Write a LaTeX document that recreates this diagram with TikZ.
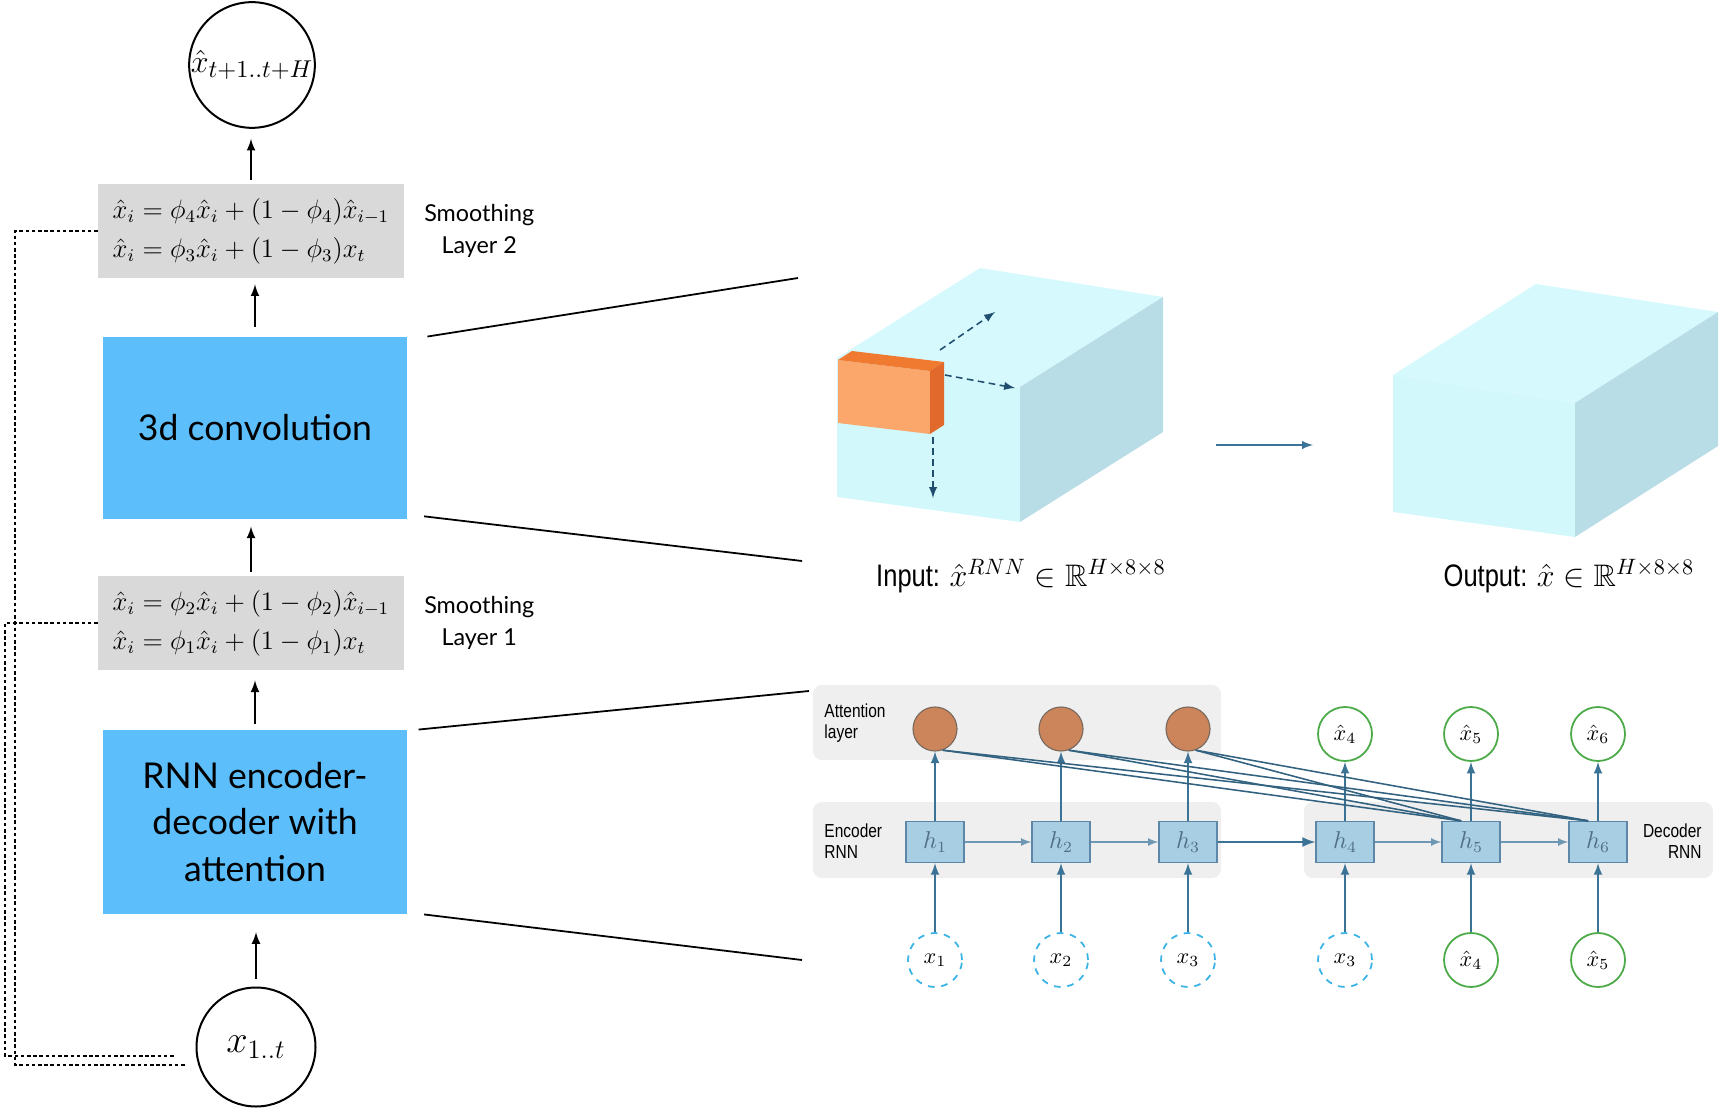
\documentclass[tikz,border=0pt]{standalone}
\usepackage{amsmath}
\usepackage{amssymb}
\usepackage{fontspec}
\setmainfont{Lato}
\newfontfamily\narrowsf[FakeStretch=0.82]{Liberation Sans}
\usepackage{xcolor}
\usepackage{tikz}
\usetikzlibrary{shapes, arrows, positioning, calc}

\definecolor{boxblue}{RGB}{92,190,250}
\definecolor{smgray}{RGB}{217,217,217}
\definecolor{panelgray}{RGB}{239,239,239}
\definecolor{hfill}{RGB}{168,206,228}
\definecolor{hedge}{RGB}{92,135,166}
\definecolor{htext}{RGB}{80,110,135}
\definecolor{arrblue}{RGB}{59,115,151}
\definecolor{arrlight}{RGB}{110,151,179}
\definecolor{attfill}{RGB}{204,132,90}
\definecolor{attedge}{RGB}{120,105,95}
\definecolor{outgreen}{RGB}{76,170,72}
\definecolor{incyan}{RGB}{59,180,229}
\definecolor{cubefront}{RGB}{210,248,252}
\definecolor{cubetop}{RGB}{214,249,253}
\definecolor{cubeside}{RGB}{185,221,230}
\definecolor{kfront}{RGB}{251,166,106}
\definecolor{ktop}{RGB}{240,122,48}
\definecolor{kside}{RGB}{224,105,43}
\definecolor{dashteal}{RGB}{31,78,110}

\newcommand{\pxu}{0.45pt}

\tikzset{
  bigbox/.style={fill=boxblue, minimum width=304*\pxu, minimum height=184*\pxu, align=center, font=\fontsize{16}{21}\selectfont},
  smbox/.style={fill=smgray, minimum width=306*\pxu, minimum height=94*\pxu, align=left, font=\fontsize{12}{17.5}\selectfont},
  ioball/.style={circle, draw, line width=0.9pt, minimum size=119*\pxu, inner sep=0pt},
  uparr/.style={-latex, line width=0.8pt},
  zoomline/.style={line width=0.8pt},
  skipline/.style={dash pattern=on 1.6pt off 1.2pt, line width=0.7pt},
  hbox/.style={fill=hfill, draw=hedge, line width=0.6pt, minimum width=58*\pxu, minimum height=41*\pxu, text=htext, font=\fontsize{10.5}{12}\selectfont},
  attnode/.style={circle, fill=attfill, draw=attedge, line width=0.5pt, minimum size=44*\pxu, inner sep=0pt},
  outnode/.style={circle, draw=outgreen, line width=0.8pt, minimum size=54*\pxu, inner sep=0pt, fill=white},
  innode/.style={circle, draw=incyan, dashed, line width=0.8pt, minimum size=54*\pxu, inner sep=0pt},
  panel/.style={fill=panelgray, rounded corners=4pt},
  rnnarr/.style={-latex, arrblue, line width=0.8pt},
  recarr/.style={-latex, arrlight, line width=0.6pt},
  attline/.style={arrblue!85!black, line width=0.7pt},
  smalllab/.style={font=\narrowsf\fontsize{8.5}{9.5}\selectfont, align=left, inner sep=0pt},
  cubelab/.style={font=\narrowsf\fontsize{14}{16}\selectfont},
  kernarr/.style={-latex, dashteal, dash pattern=on 3pt off 2pt, line width=0.7pt},
}

\begin{document}
\begin{tikzpicture}[x=\pxu, y=-\pxu]
  \useasboundingbox (0,0) rectangle (1725,1108);

  % Left column
  \node[ioball] (outc) at (252,65) {\fontsize{15}{18}\selectfont $\hat{x}_{t+1..t+H}$};
  \node[smbox] (sm2) at (251,231) {$\hat{x}_i = \phi_4\hat{x}_i + (1-\phi_4)\hat{x}_{i-1}$\\ $\hat{x}_i = \phi_3\hat{x}_i + (1-\phi_3)x_t$};
  \node[bigbox, minimum height=182*\pxu] (conv) at (255,428) {3d convolution};
  \node[smbox] (sm1) at (251,623) {$\hat{x}_i = \phi_2\hat{x}_i + (1-\phi_2)\hat{x}_{i-1}$\\ $\hat{x}_i = \phi_1\hat{x}_i + (1-\phi_1)x_t$};
  \node[bigbox] (rnn) at (255,822) {RNN encoder-\\decoder with\\attention};
  \node[ioball] (xin) at (256,1047) {\fontsize{17}{20}\selectfont $x_{1..t}$};

  \node[right=5.4pt of sm2, align=center, font=\fontsize{10.5}{14.4}\selectfont] (sm2lab) {Smoothing\\Layer 2};
  \node[right=5.4pt of sm1, align=center, font=\fontsize{10.5}{14.4}\selectfont] (sm1lab) {Smoothing\\Layer 1};

  % Flow arrows
  \draw[uparr, shorten <=1.8pt, shorten >=4.5pt] (sm2.north) -- (sm2.north |- outc.south);
  \draw[uparr, shorten <=4.5pt, shorten >=2.7pt] (conv.north) -- (conv.north |- sm2.south);
  \draw[uparr, shorten <=1.8pt, shorten >=3.2pt] (sm1.north) -- (sm1.north |- conv.south);
  \draw[uparr, shorten <=2.7pt, shorten >=4.5pt] (rnn.north) -- (rnn.north |- sm1.south);
  \draw[uparr, shorten <=3.5pt, shorten >=8pt] (xin.north) -- (xin.north |- rnn.south);

  % Skip connections
  \coordinate (skipa) at (186,1065);
  \coordinate (skipb) at (175,1056);
  \draw[skipline] (sm2.west) -| (15,1065) -- (skipa);
  \draw[skipline] (sm1.west) -| (5,1056) -- (skipb);

  % Zoom lines
  \coordinate (cubetl) at (798,278);
  \coordinate (cubebl) at (802,561);
  \coordinate (rnntl) at (809,691);
  \coordinate (rnnbl) at (802,960);
  \draw[zoomline] ([xshift=9pt]conv.north east) -- (cubetl);
  \draw[zoomline] ([xshift=7.5pt, yshift=1.4pt]conv.south east) -- (cubebl);
  \draw[zoomline] ([xshift=5pt]rnn.north east) -- (rnntl);
  \draw[zoomline] ([xshift=7.5pt]rnn.south east) -- (rnnbl);

  % Input cube
  \fill[cubefront] (837,358) -- (1020,387) -- (1020,522) -- (837,497) -- cycle;
  \fill[cubetop] (837,358) -- (1020,387) -- (1163,297) -- (980,268) -- cycle;
  \fill[cubeside] (1020,387) -- (1163,297) -- (1163,432) -- (1020,522) -- cycle;
  % Kernel
  \fill[kfront] (838,360) -- (930,371) -- (930,434) -- (838,423) -- cycle;
  \fill[ktop] (838,360) -- (930,371) -- (944,362) -- (852,351) -- cycle;
  \fill[kside] (930,371) -- (944,362) -- (944,425) -- (930,434) -- cycle;
  \draw[kernarr] (940,350) -- (995,312);
  \draw[kernarr] (945,375) -- (1015,388);
  \draw[kernarr] (933,437) -- (933,498);

  \draw[-latex, arrblue, line width=0.7pt] (1216,445) -- (1313,445);

  % Output cube
  \fill[cubefront] (1393,375) -- (1575,403) -- (1575,537) -- (1393,512) -- cycle;
  \fill[cubetop] (1393,375) -- (1575,403) -- (1718,312) -- (1536,284) -- cycle;
  \fill[cubeside] (1575,403) -- (1718,312) -- (1718,446) -- (1575,537) -- cycle;

  \node[cubelab] (inlab) at (1021,576) {Input: $\hat{x}^{RNN} \in \mathbb{R}^{H\times 8\times 8}$};
  \node[cubelab] (outlab) at (1569,576) {Output: $\hat{x} \in \mathbb{R}^{H\times 8\times 8}$};

  % Encoder-decoder with attention
  \fill[panel] (813,685) rectangle (1221,760);
  \fill[panel] (813,802) rectangle (1221,878);
  \fill[panel] (1304,802) rectangle (1713,878);
  \node[smalllab, anchor=west] (attlab) at (824,723) {Attention\\layer};
  \node[smalllab, anchor=west] (enclab) at (824,841) {Encoder\\RNN};
  \node[smalllab, anchor=east, align=right] (declab) at (1702,841) {Decoder\\RNN};

  \foreach \i/\x in {1/935, 2/1061, 3/1188, 4/1345, 5/1471, 6/1598}
    \node[hbox] (h\i) at (\x,842) {$h_{\i}$};
  \foreach \i/\x in {1/935, 2/1061, 3/1188}
    \node[attnode] (a\i) at (\x,729) {};
  \foreach \i/\x in {4/1345, 5/1471, 6/1598}
    \node[outnode] (o\i) at (\x,734) {$\hat{x}_{\i}$};
  \foreach \i/\x/\lab in {1/935/x_1, 2/1061/x_2, 3/1188/x_3, 4/1345/x_3}
    \node[innode] (in\i) at (\x,960) {$\lab$};
  \node[outnode] (in5) at (1471,960) {$\hat{x}_4$};
  \node[outnode] (in6) at (1598,960) {$\hat{x}_5$};

  \foreach \i in {1,...,6}
    \draw[rnnarr] (in\i) -- (h\i);
  \foreach \i in {1,2,3}
    \draw[rnnarr] (h\i) -- (a\i);
  \foreach \i in {4,5,6}
    \draw[rnnarr] (h\i) -- (o\i);
  \draw[recarr] (h1) -- (h2);
  \draw[recarr] (h2) -- (h3);
  \draw[rnnarr, line width=1pt] (h3) -- (h4);
  \draw[recarr] (h4) -- (h5);
  \draw[recarr] (h5) -- (h6);

  % Attention weights
  \foreach \i in {1,2,3} {
    \draw[attline] (a\i.-70) -- (h5.115);
    \draw[attline] (a\i.-70) -- (h6.115);
  }
\end{tikzpicture}
\end{document}
